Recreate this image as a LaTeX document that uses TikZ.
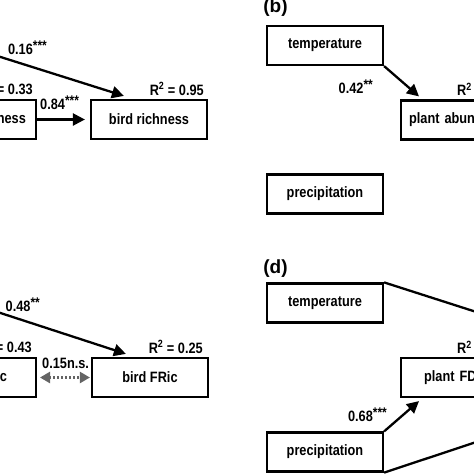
\documentclass[tikz,border=0pt]{standalone}
\usepackage{fontspec}
\setmainfont{Liberation Sans}[FakeStretch=0.85]
\newfontfamily\plabelfont{Liberation Sans}
\usetikzlibrary{arrows.meta,calc}
\definecolor{dotgray}{RGB}{100,100,100}
\newcommand{\sigstars}[1]{\raisebox{4pt}{\fontsize{14}{14}\selectfont #1}}
\begin{document}
\begin{tikzpicture}[x=1pt,y=-1pt,
  box/.style={draw, line width=2.2pt, rectangle, minimum width=116pt, minimum height=39pt, inner sep=0pt, font=\fontsize{15}{15}\selectfont\bfseries, fill=white},
  lab/.style={font=\fontsize{15}{15}\selectfont\bfseries, inner sep=0pt},
  plab/.style={font=\fontsize{19}{19}\plabelfont\bfseries, inner sep=0pt},
  arr/.style={line width=2.3pt, -{Triangle[length=12pt,width=12pt]}},
  plainline/.style={line width=2.3pt},
  dotarr/.style={line width=2.3pt, draw=dotgray, dash pattern=on 2pt off 2pt, {Triangle[length=10pt,width=11pt,fill=dotgray]}-{Triangle[length=10pt,width=11pt,fill=dotgray]}}
]
\useasboundingbox (0,0) rectangle (474,474);
% panel (a)
\node[box, anchor=east, text width=96pt, align=right, inner xsep=10pt] (pr) at (37,119.5) {ness};
\node[box] (br) at (149,119.5) {bird richness};
\node[lab, anchor=east] (r95) at (204,89) {R\textsuperscript{2} = 0.95};
\node[lab, anchor=east] (r33) at (33,89) {= 0.33};
\node[lab, anchor=east] (l16) at (47,48) {0.16\sigstars{***}};
\node[lab, anchor=west] (l84) at (40,103) {0.84\sigstars{***}};
\coordinate (ta) at (-40,44.2);
\draw[arr] (ta) -- ($(br.north west)+(34,-3)$);
\draw[arr] (pr.east) -- ($(br.west)+(-5,0)$);
% panel (b)
\node[plab, anchor=base] (pbl) at (275.5,12.7) {(b)};
\node[box] (tb) at (325,45.5) {temperature};
\node[box] (pb) at (325,194) {precipitation};
\node[box, anchor=west, text width=100pt, align=left, inner xsep=4pt] (pab) at (400,120) {plant abund};
\node[lab, anchor=west] (rb) at (457,89) {R\textsuperscript{2}};
\node[lab, anchor=east] (l42) at (373,87) {0.42\sigstars{**}};
\draw[arr] (tb.south east) -- ($(pab.north west)+(19,-3)$);
% panel (c)
\node[box, anchor=east, text width=58pt, align=right, inner xsep=29pt] (pf) at (37,377.5) {c};
\node[box] (bf) at (150,377.5) {bird FRic};
\node[lab, anchor=east] (r25) at (203,347) {R\textsuperscript{2} = 0.25};
\node[lab, anchor=east] (r43) at (32,347) {= 0.43};
\node[lab, anchor=east] (l48) at (40,305) {0.48\sigstars{**}};
\node[lab, anchor=west] (l15) at (42,363) {0.15n.s.};
\coordinate (tc) at (-40,299.8);
\draw[arr] (tc) -- ($(bf.north west)+(35,-3)$);
\draw[dotarr, shorten <=3pt, shorten >=1pt] (pf.east) -- (bf.west);
% panel (d)
\node[plab, anchor=base] (pdl) at (275.5,273) {(d)};
\node[box] (td) at (325,303) {temperature};
\node[box] (pd) at (325,452) {precipitation};
\node[box, anchor=west, text width=100pt, align=left, inner xsep=23pt] (pfd) at (400,377.5) {plant FD};
\node[lab, anchor=west] (rd) at (457,347) {R\textsuperscript{2}};
\node[lab, anchor=east] (l68) at (387,415) {0.68\sigstars{***}};
\coordinate (d1) at (530,329.2);
\coordinate (d2) at (530,424.2);
\draw[plainline] (td.north east) -- (d1);
\draw[plainline] (pd.south east) -- (d2);
\draw[arr] (pd.north east) -- ($(pfd.south west)+(19,3)$);
\end{tikzpicture}
\end{document}
